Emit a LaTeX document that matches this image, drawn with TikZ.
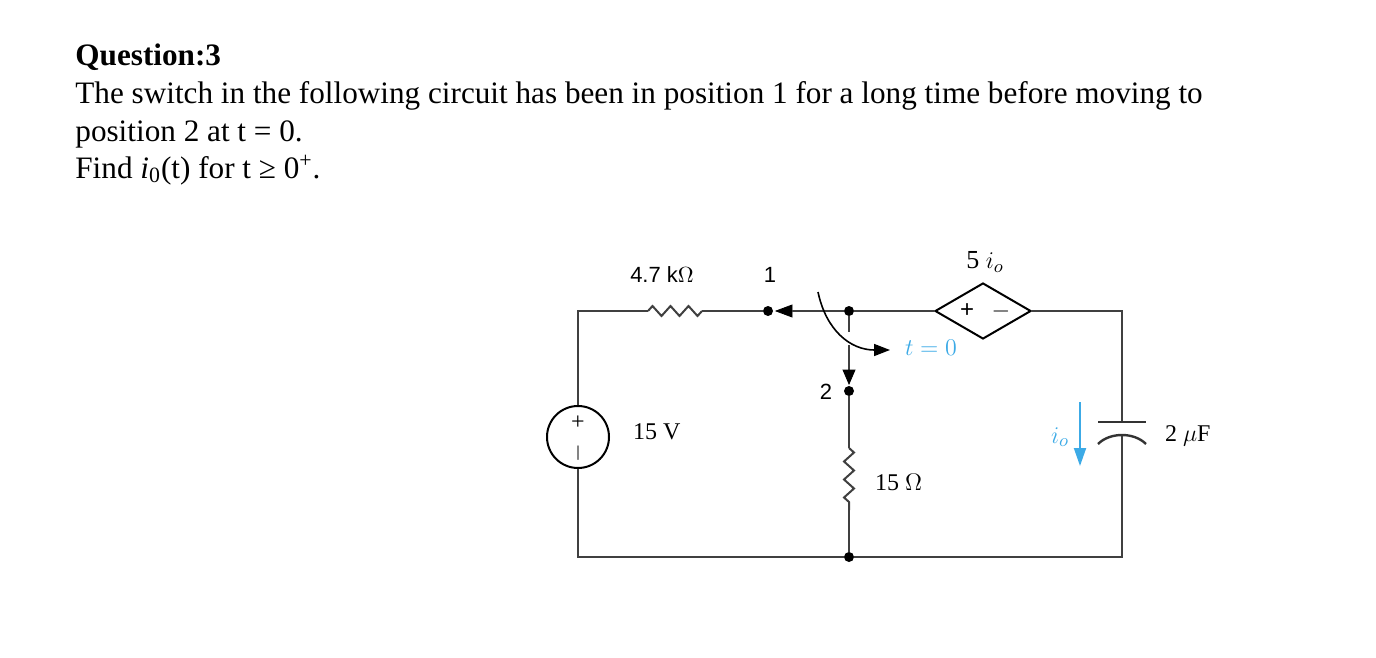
\documentclass[tikz,border=0pt]{standalone}
\usepackage{fontspec}
\setmainfont{Liberation Serif}
\newfontfamily\circfont{Liberation Sans}
\usetikzlibrary{arrows.meta,shapes.geometric,decorations.pathmorphing}
\definecolor{cblue}{RGB}{60,170,230}
\begin{document}
\begin{tikzpicture}[x=0.5pt,y=-0.5pt,
  wire/.style={line width=1pt,draw=black!75},
  dotn/.style={circle,fill=black,inner sep=0pt,minimum size=5pt},
  lbl/.style={font=\circfont\fontsize{11}{13}\selectfont,inner sep=1pt},
  ttl/.style={anchor=base west,inner sep=0pt,font=\fontsize{15.6}{16}\selectfont}]
\useasboundingbox (0,0) rectangle (1376,658);
\node[ttl] (q) at (75,66) {\textbf{Question:3}};
\node[ttl] (l1) at (75,104) {The switch in the following circuit has been in position 1 for a long time before moving to};
\node[ttl] (l2) at (75,141) {position 2 at t = 0.};
\node[ttl] (l3) at (75,178) {Find \textit{i}\textsubscript{0}(t) for t ≥ 0\textsuperscript{+}.};
\coordinate (tl) at (578,311); \coordinate (bl) at (578,557);
\coordinate (tr) at (1122,311); \coordinate (br) at (1122,557);
\coordinate (r1a) at (648,311); \coordinate (r1b) at (702,311);
\node[dotn] (n1) at (768,311) {};
\node[dotn] (nj) at (849,311) {};
\node[dotn] (n2) at (849,391) {};
\node[dotn] (nb) at (849,557) {};
\node[draw,line width=1pt,circle,minimum size=31pt,inner sep=0pt] (src) at (578,437) {};
\node[draw,line width=1pt,diamond,minimum width=48pt,minimum height=28pt,inner sep=0pt] (dia) at (983,311) {};
\node[font=\circfont\fontsize{12}{12}\selectfont] at ([xshift=-8pt]dia.center) {+};
\node[font=\circfont\fontsize{12}{12}\selectfont] at ([xshift=9pt]dia.center) {$-$};
\node[font=\fontsize{12}{12}\selectfont] at ([yshift=7pt]src.center) {+};
\node[font=\fontsize{12}{12}\selectfont,rotate=90] at ([yshift=-8pt]src.center) {$-$};
\draw[wire] (src.north) -- (tl) -- (r1a);
\draw[wire,decorate,decoration={zigzag,segment length=9pt,amplitude=2.5pt}] (r1a) -- (r1b);
\draw[wire] (r1b) -- (n1);
\draw[wire] (src.south) -- (bl) -- (nb) -- (br) -- (1122,436);
\draw[wire] (nj) -- (dia.west);
\draw[wire] (dia.east) -- (tr) -- (1122,422);
\draw[wire] (nj) -- (849,332);
\draw[wire] (849,345) -- (849,370);
\draw[fill=black] (849,384) -- (843,370) -- (855,370) -- cycle;
\draw[fill=black] (776,311) -- (792,305) -- (792,317) -- cycle;
\draw[wire] (792,311) -- (nj);
\draw[line width=1.2pt,black!80] (1098,422) -- (1146,422);
\draw[line width=1.2pt,black!80] (1098,444) .. controls (1110,432) and (1134,432) .. (1146,444);
\draw[wire,decorate,decoration={zigzag,segment length=9pt,amplitude=2.5pt}] (849,448) -- (849,510);
\draw[wire] (n2) -- (849,448);
\draw[wire] (849,510) -- (nb);
\draw[line width=0.8pt,-{Triangle[length=8pt,width=6pt]}] (818,292) .. controls (826,330) and (850,350) .. (890,350);
\node[text=cblue,font=\fontsize{13}{13}\selectfont] (t0) at (931,348) {$t=0$};
\draw[cblue,line width=1pt,-{Triangle[length=9pt,width=6pt]}] (1080,402) -- (1080,466);
\node[text=cblue,font=\fontsize{13}{13}\selectfont] (io) at (1060,437) {$i_o$};
\node[lbl] at (662,275) {4.7 k$\Omega$};
\node[lbl] at (770,275) {1};
\node[lbl] at (826,392) {2};
\node[font=\fontsize{13}{13}\selectfont] at (985,262) {5 $i_o$};
\node[font=\fontsize{12}{12}\selectfont,anchor=west] at (626,432) {15 V};
\node[font=\fontsize{12}{12}\selectfont,anchor=west] at (868,482) {15 $\Omega$};
\node[font=\fontsize{12}{12}\selectfont,anchor=west] at (1158,436) {2 $\mu$F};
\end{tikzpicture}
\end{document}
